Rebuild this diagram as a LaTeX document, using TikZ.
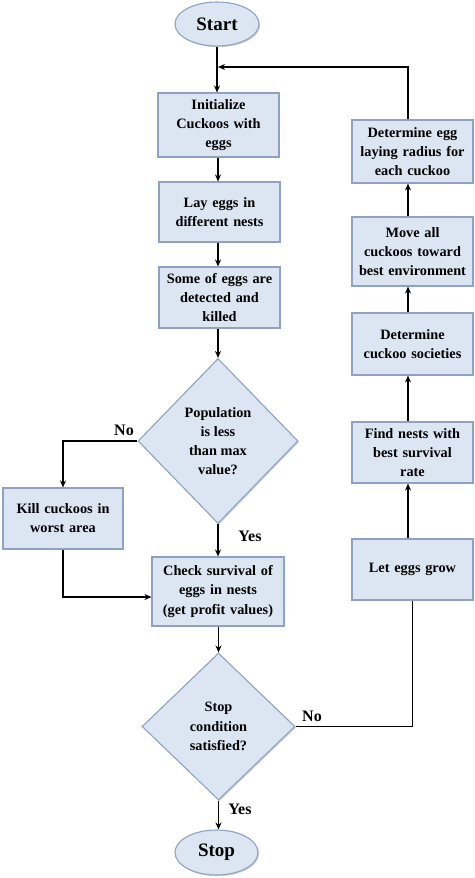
\documentclass[tikz,border=0pt]{standalone}
\usepackage{fontspec}
\setmainfont{Liberation Serif}
\usetikzlibrary{shapes.geometric,arrows.meta,shadows}
\definecolor{boxfill}{HTML}{DCE6F2}
\definecolor{boxline}{HTML}{8EA3C2}
\begin{document}
\begin{tikzpicture}[x=1pt,y=-1pt,
  every node/.style={font=\fontsize{14.3}{19.2}\selectfont\bfseries},
  base/.style={draw=boxline, fill=boxfill, line width=1.1pt, align=center,
    drop shadow={opacity=0.35, shadow xshift=1.2pt, shadow yshift=-1.2pt}},
  procbox/.style={base, rectangle, inner sep=2pt},
  decbox/.style={base, diamond, inner sep=0pt, aspect=1},
  termbox/.style={base, ellipse, inner sep=0pt, font=\fontsize{19}{22}\selectfont\bfseries},
  conn/.style={line width=1.6pt, draw=black},
  arr/.style={conn, -{Stealth[length=7pt,width=6pt]}},
  lbl/.style={font=\fontsize{16}{18}\selectfont\bfseries}]
\useasboundingbox (0,0) rectangle (474,878);

% left column
\node[termbox, minimum width=84pt, minimum height=44pt] (start) at (217,24) {Start};
\node[procbox, minimum width=121pt, minimum height=64pt, text width=117pt] (init) at (218.5,125) {Initialize\\Cuckoos with\\eggs};
\node[procbox, minimum width=121pt, minimum height=60pt, text width=117pt] (lay) at (219.5,212) {Lay eggs in\\different nests};
\node[procbox, minimum width=121pt, minimum height=61pt, text width=117pt] (some) at (219.5,297.5) {Some of eggs are\\detected and\\killed};
\node[decbox, minimum width=160pt, minimum height=165pt] (pop) at (218,441) {Population\\is less\\than max\\value?};
\node[procbox, minimum width=120pt, minimum height=61pt, text width=116pt] (kill) at (63,518.5) {Kill cuckoos in\\worst area\\[14pt]};
\node[procbox, minimum width=132pt, minimum height=69pt, text width=128pt] (check) at (218,591.5) {Check survival of\\eggs in nests\\(get profit values)};
\node[decbox, minimum width=153pt, minimum height=147pt] (cond) at (218.5,726.5) {Stop\\condition\\satisfied?};
\node[termbox, minimum width=83pt, minimum height=45pt] (stop) at (216.5,852.5) {Stop};

% right column
\node[procbox, minimum width=121pt, minimum height=63pt, text width=117pt] (radius) at (412.5,151.5) {Determine egg\\laying radius for\\each cuckoo};
\node[procbox, minimum width=121pt, minimum height=69pt, text width=117pt] (move) at (412.5,251.5) {Move all\\cuckoos toward\\best environment};
\node[procbox, minimum width=121pt, minimum height=62pt, text width=117pt] (soc) at (412.5,344) {Determine\\cuckoo societies\\[10pt]};
\node[procbox, minimum width=121pt, minimum height=61pt, text width=117pt] (find) at (412.5,452.5) {Find nests with\\best survival\\rate};
\node[procbox, minimum width=121pt, minimum height=61pt, text width=117pt] (grow) at (412.5,569.5) {Let eggs grow\\[16pt]};

\coordinate (loopR) at (408,67);
\coordinate (loopL) at (218,67);

% connectors
\draw[arr] (start.south) -- (start.south |- init.north);
\draw[arr] (radius.north -| loopR) -- (loopR) -- (loopL);
\draw[arr] (init.south -| 218,0) -- (lay.north -| 218,0);
\draw[arr] (lay.south -| 218,0) -- (some.north -| 218,0);
\draw[arr] (some.south -| 218,0) -- (pop.north);
\draw[arr] (pop.west) -| (kill.north);
\draw[arr] (kill.south) |- (check.west |- 0,597);
\draw[arr] (pop.south) -- (check.north -| pop.south);
\draw[arr] (check.south -| cond.north) -- (cond.north);
\draw[arr] (cond.south) -- (stop.north -| cond.south);
\draw[conn] (cond.east) -| (grow.south);
\draw[arr] (grow.north -| 408,0) -- (find.south -| 408,0);
\draw[arr] (find.north -| 408,0) -- (soc.south -| 408,0);
\draw[arr] (soc.north -| 408,0) -- (move.south -| 408,0);
\draw[arr] (move.north -| 408,0) -- (radius.south -| 408,0);

% labels
\node[lbl] (lno1) at (124,430) {No};
\node[lbl] (lyes1) at (250,536) {Yes};
\node[lbl] (lno2) at (312,716) {No};
\node[lbl] (lyes2) at (240,809) {Yes};
\end{tikzpicture}
\end{document}
